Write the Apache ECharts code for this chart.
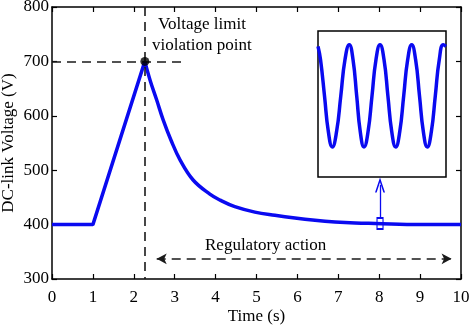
<!DOCTYPE html>
<html>
<head>
<meta charset="utf-8">
<script src="https://cdn.jsdelivr.net/npm/echarts@6/dist/echarts.min.js"></script>
<style>
html,body{margin:0;padding:0;background:#fff;}
#chart{width:474px;height:327px;}
</style>
</head>
<body>
<div id="chart"></div>
<script>
// ---- data ----
var rampTime = [0, 1.0, 2.27];
var rampVolt = [400, 400, 700];
var decayTime = [2.27, 2.40, 2.56, 2.72, 2.91, 3.13, 3.45, 3.86, 4.11, 4.47, 4.96, 5.45, 5.94, 6.43, 6.92, 7.41, 7.90, 9.0, 10];
var decayVolt = [700, 665, 629, 592, 555, 519, 482, 456, 445, 433, 423, 417, 412, 408, 405, 403, 402, 400, 400];
var peakPoint = [2.27, 700];
var xTicks = [0, 1, 2, 3, 4, 5, 6, 7, 8, 9, 10];
var yTicks = [300, 400, 500, 600, 700, 800];
// zoomed inset (arbitrary units: horizontal position, normalised ripple)
var insetX = [0, 2.5, 6.5, 10.4, 14.3, 18.5, 22.8, 27.0, 31.3, 35.0, 38.7, 42.3, 46.0, 50.0, 54.0, 58.0, 62.0, 66.0, 69.9, 73.8, 77.7, 81.7, 85.7, 89.7, 93.7, 97.6, 101.5, 105.4, 109.3, 113.3, 117.3, 121.3, 125.3, 128];
var insetY = [0.97, 0.71, 0, -0.71, -1, -0.71, 0, 0.71, 1, 0.71, 0, -0.71, -1, -0.71, 0, 0.71, 1, 0.71, 0, -0.71, -1, -0.71, 0, 0.71, 1, 0.71, 0, -0.71, -1, -0.71, 0, 0.71, 1, 0.97];
var zoomPoint = [8.02, 402];
var zoomArrow = [[8.02, 412], [8.02, 473]];
var actionArrow = [[2.56, 337], [9.77, 337]];
var limitHLine = [[0, 700], [3.2, 700]];
var limitVLine = [[2.27, 800], [2.27, 300]];

var FONT = "'Liberation Serif','Times New Roman',serif";
var BLUE = '#0a0af0';

function zip(a, b) { return a.map(function (v, i) { return [v, b[i]]; }); }

var dashStyle = { color: '#1a1a1a', width: 1.6, type: [9, 6] };

function baseAxis(extra) {
  var o = {
    type: 'value',
    axisLine: { show: true, onZero: false, lineStyle: { color: '#000', width: 1.5 } },
    axisTick: { show: true, inside: true, length: 5, lineStyle: { color: '#000', width: 1.2 } },
    splitLine: { show: false },
    axisLabel: { show: false }
  };
  for (var k in extra) o[k] = extra[k];
  return o;
}

var chart = echarts.init(document.getElementById('chart'), null, { renderer: 'canvas' });
var option = {
  animation: false,
  backgroundColor: '#fff',
  grid: [
    { left: 52, right: 13, top: 7, bottom: 48, containLabel: false, outerBoundsMode: 'none' },
    { left: 318, top: 31, width: 128, height: 146, show: true, backgroundColor: '#fff', borderColor: '#000', borderWidth: 1.5, z: 1, containLabel: false, outerBoundsMode: 'none' }
  ],
  xAxis: [
    baseAxis({ gridIndex: 0, position: 'bottom', min: xTicks[0], max: xTicks[xTicks.length - 1], interval: 1,
      axisLabel: { show: true, color: '#000', fontFamily: FONT, fontSize: 17, margin: 10 },
      name: 'Time (s)', nameLocation: 'middle', nameGap: 29, nameMoveOverlap: false,
      nameTextStyle: { color: '#000', fontFamily: FONT, fontSize: 17 } }),
    baseAxis({ gridIndex: 0, position: 'top', min: xTicks[0], max: xTicks[xTicks.length - 1], interval: 1 }),
    { type: 'value', gridIndex: 1, min: 0, max: 128, show: false }
  ],
  yAxis: [
    baseAxis({ gridIndex: 0, position: 'left', min: yTicks[0], max: yTicks[yTicks.length - 1], interval: 100,
      axisLabel: { show: true, color: '#000', fontFamily: FONT, fontSize: 17, margin: 3 },
      name: 'DC-link Voltage (V)', nameLocation: 'middle', nameGap: 35, nameMoveOverlap: false,
      nameTextStyle: { color: '#000', fontFamily: FONT, fontSize: 17 } }),
    baseAxis({ gridIndex: 0, position: 'right', min: yTicks[0], max: yTicks[yTicks.length - 1], interval: 100 }),
    { type: 'value', gridIndex: 1, min: -1.59, max: 1.27, show: false }
  ],
  series: [
    {
      type: 'line', xAxisIndex: 0, yAxisIndex: 0, data: zip(rampTime, rampVolt),
      showSymbol: false, lineStyle: { color: BLUE, width: 3.5 }, itemStyle: { color: BLUE }, z: 3
    },
    {
      type: 'line', xAxisIndex: 0, yAxisIndex: 0, data: zip(decayTime, decayVolt), smooth: 0.4,
      showSymbol: false, lineStyle: { color: BLUE, width: 3.5 }, itemStyle: { color: BLUE }, z: 3,
      markLine: {
        silent: true, animation: false,
        label: { show: false },
        symbol: ['none', 'none'],
        data: [
          [{ coord: limitHLine[0], lineStyle: dashStyle }, { coord: limitHLine[1] }],
          [{ coord: limitVLine[0], lineStyle: dashStyle }, { coord: limitVLine[1] }],
          [{ coord: actionArrow[0], symbol: 'arrow', symbolSize: [8, 10], lineStyle: dashStyle },
           { coord: actionArrow[1], symbol: 'arrow', symbolSize: [8, 10] }],
          [{ coord: zoomArrow[0], symbol: 'none', lineStyle: { color: BLUE, width: 1.3, type: 'solid' } },
           { coord: zoomArrow[1], symbol: 'path://M0,14 L5,0 L10,14 L8.4,14 L5,4.5 L1.6,14 Z', symbolSize: [10, 15] }]
        ]
      },
      markPoint: {
        silent: true, animation: false,
        data: [{ coord: zoomPoint, symbol: 'rect', symbolSize: [6, 11],
          itemStyle: { color: 'rgba(255,255,255,0)', borderColor: BLUE, borderWidth: 1.5 }, label: { show: false } }]
      }
    },
    {
      type: 'scatter', xAxisIndex: 0, yAxisIndex: 0, data: [peakPoint],
      symbol: 'circle', symbolSize: 9, itemStyle: { color: '#000' }, z: 5
    },
    {
      type: 'line', xAxisIndex: 2, yAxisIndex: 2, data: zip(insetX, insetY), smooth: true,
      showSymbol: false, lineStyle: { color: BLUE, width: 3.5 }, z: 3
    }
  ],
  graphic: [
    { type: 'text', left: 158, top: 16, style: { text: 'Voltage limit', font: '17px ' + FONT, fill: '#000' } },
    { type: 'text', left: 152, top: 37, style: { text: 'violation point', font: '17px ' + FONT, fill: '#000' } },
    { type: 'text', left: 205, top: 237, style: { text: 'Regulatory action', font: '17px ' + FONT, fill: '#000' } }
  ]
};
chart.setOption(option);
</script>
</body>
</html>
